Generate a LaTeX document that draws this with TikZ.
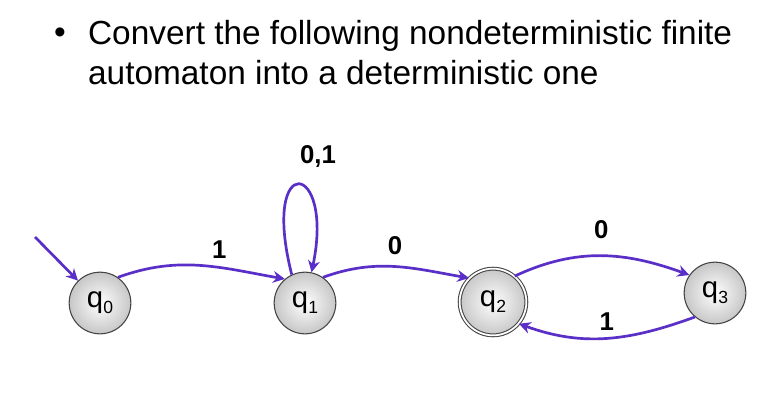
\documentclass[tikz,border=0pt]{standalone}
\usepackage{fontspec}
\setmainfont{Liberation Sans}
\usetikzlibrary{arrows.meta}
\definecolor{edgec}{HTML}{5A2FC8}
\definecolor{nodeb}{HTML}{444444}
\newcommand{\qsub}[1]{q\raisebox{-0.35ex}{\fontsize{15}{15}\selectfont #1}}
\begin{document}
\begin{tikzpicture}[x=0.03cm,y=-0.03cm,
  st/.style={circle,draw=nodeb,line width=0.9pt,inner color=white,outer color=black!22,minimum size=1.85cm,inner sep=0pt,font=\fontsize{25}{25}\selectfont},
  acc/.style={st,double=white,double distance=1.5pt,minimum size=2.0cm},
  tr/.style={draw=edgec,line width=2.3pt,-{Stealth[length=10pt,width=10pt]}},
  lab/.style={font=\bfseries\fontsize{22}{22}\selectfont}]
\useasboundingbox (0,0) rectangle (780,412);
\fill[white] (0,0) rectangle (780,412);
\node[anchor=west,font=\fontsize{28.5}{28.5}\selectfont] (b) at (50,36) {•};
\node[anchor=west,font=\fontsize{28.5}{28.5}\selectfont] (t1) at (84,36) {Convert the following nondeterministic finite};
\node[anchor=west,font=\fontsize{28.5}{28.5}\selectfont] (t2) at (84,73) {automaton into a deterministic one};
\node[st] (q0) at (100,303) {\qsub{0}};
\node[st] (q1) at (305,303) {\qsub{1}};
\node[acc] (q2) at (493,302) {\qsub{2}};
\node[st] (q3) at (715,293) {\qsub{3}};
\coordinate (ini) at (35,237);
\draw[tr] (ini) -- (q0);
\draw[tr] (q0.55) to[out=20,in=170] node[lab,above=3pt,pos=0.62] {1} (q1.130);
\draw[tr] (q1.115) .. controls (260,150) and (335,160) .. (q1.78);
\node[lab] (l01) at (318,156) {0,1};
\draw[tr] (q1.55) to[out=20,in=170] node[lab,above=6pt] {0} (q2.135);
\draw[tr] (q2.50) to[out=25,in=160] node[lab,above=10pt] {0} (q3.145);
\draw[tr] (q3.230) to[out=200,in=-20] node[lab,above=2pt] {1} (q2.-40);
\end{tikzpicture}
\end{document}
